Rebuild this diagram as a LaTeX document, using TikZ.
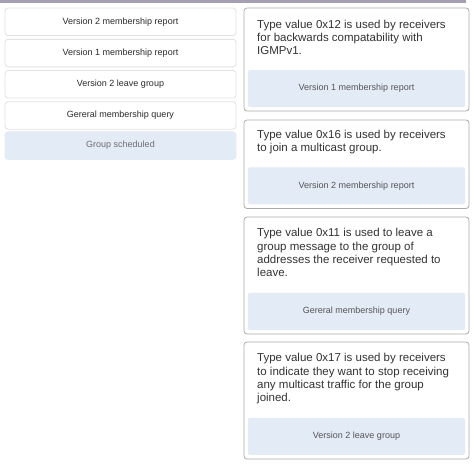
\documentclass[tikz,border=0pt]{standalone}
\usepackage{fontspec}
\setmainfont{Liberation Sans}
\usepackage{tikz}
\usetikzlibrary{positioning}
\definecolor{barcol}{HTML}{A79FB1}
\definecolor{lightedge}{HTML}{E2E2E2}
\definecolor{darkedge}{HTML}{ABABAB}
\definecolor{dropblue}{HTML}{E3EBF6}
\definecolor{labelgray}{HTML}{2A2A2A}
\definecolor{descgray}{HTML}{333333}
\definecolor{dropgray}{HTML}{555555}
\tikzset{
  choice/.style={draw=lightedge, line width=0.8pt, rounded corners=3pt, fill=white,
    minimum width=231pt, minimum height=27.5pt, inner sep=0pt,
    text=labelgray, font=\fontsize{9}{10}\selectfont},
  choicedone/.style={choice, draw=dropblue, fill=dropblue, text=dropgray!85},
  card/.style={draw=darkedge, line width=0.8pt, rounded corners=3pt, fill=white},
  dropzone/.style={fill=dropblue, rounded corners=2pt, minimum width=217pt,
    minimum height=37pt, inner sep=0pt, text=dropgray, font=\fontsize{9}{10}\selectfont},
  desc/.style={anchor=north west, inner sep=0pt, align=left, text=descgray,
    font=\fontsize{11.5}{13.2}\selectfont}
}
\begin{document}
\begin{tikzpicture}[x=1pt, y=-1pt]
			%%%%% START %%%%%
			\useasboundingbox (0, 0) rectangle (474, 464);
			
			\fill[barcol] (0, 0) rectangle (466, 2.5);
			
			% answer list
			\node[choice] (v2rep) at (120.5, 21.8) {Version 2 membership report};
			\node[choice] (v1rep) at (120.5, 53.1) {Version 1 membership report};
			\node[choice] (v2leave) at (120.5, 84.3) {Version 2 leave group};
			\node[choice] (genquery) at (120.5, 115.4) {Gereral membership query};
			\node[choicedone] (grpsched) at (120.5, 145.6) {Group scheduled};
			
			% card 0x12
			\draw[card] (244, 8) rectangle (469, 111);
			\node[desc] (desc12) at (257, 19.6) {Type value 0x12 is used by receivers\\for backwards compatability with\\IGMPv1.};
			\node[dropzone] (drop12) at (356.5, 88.5) {Version 1 membership report};
			
			% card 0x16
			\draw[card] (244, 120) rectangle (469, 208.5);
			\node[desc] (desc16) at (257, 129.9) {Type value 0x16 is used by receivers\\to join a multicast group.};
			\node[dropzone] (drop16) at (356.5, 185.8) {Version 2 membership report};
			
			% card 0x11
			\draw[card] (244, 217) rectangle (469, 334);
			\node[desc] (desc11) at (257, 228.3) {Type value 0x11 is used to leave a\\group message to the group of\\addresses the receiver requested to\\leave.};
			\node[dropzone] (drop11) at (356.5, 311.3) {Gereral membership query};
			
			% card 0x17
			\draw[card] (244, 342) rectangle (469, 459);
			\node[desc] (desc17) at (257, 353.3) {Type value 0x17 is used by receivers\\to indicate they want to stop receiving\\any multicast traffic for the group\\joined.};
			\node[dropzone] (drop17) at (356.5, 436.3) {Version 2 leave group};
			
			%%%%% END %%%%%
\end{tikzpicture}
\end{document}
